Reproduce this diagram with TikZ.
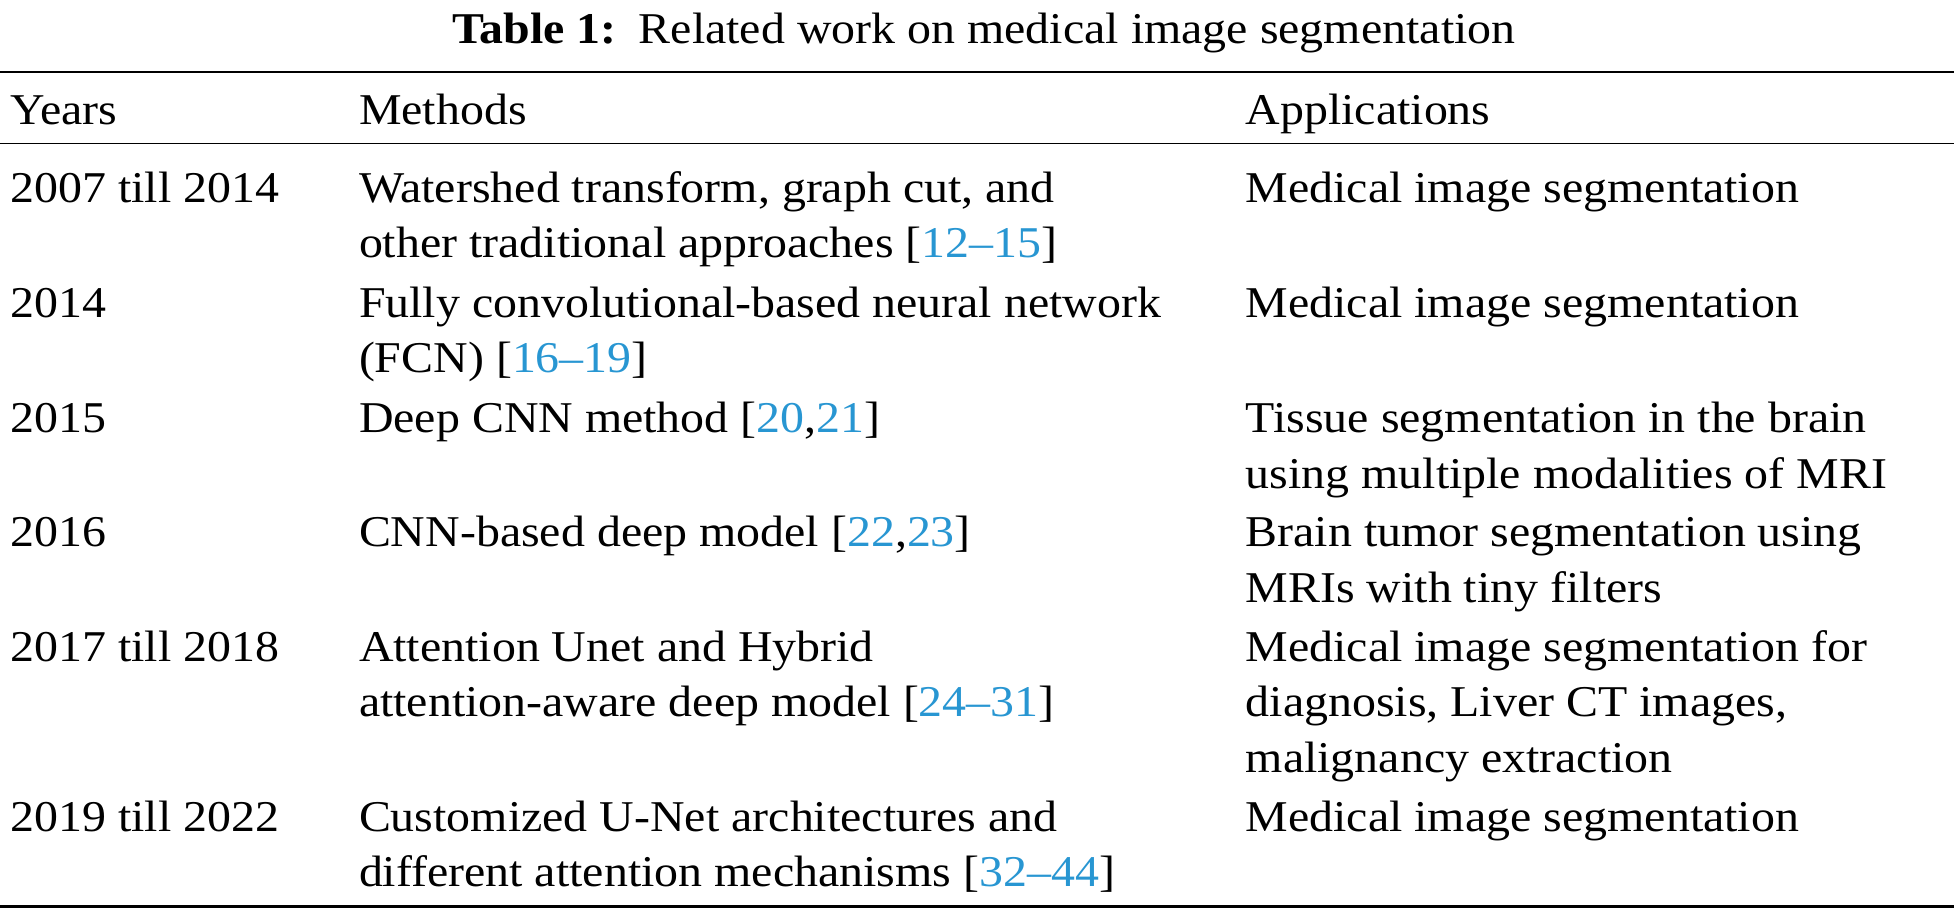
\documentclass[tikz,border=0pt]{standalone}
\usepackage{fontspec}
\setmainfont[FakeStretch=1.09]{Liberation Serif}
\definecolor{lnk}{RGB}{40,150,210}
\newcommand{\rf}[1]{\textcolor{lnk}{#1}}
\begin{document}
\begin{tikzpicture}[x=0.0249cm,y=-0.0249cm,
  cell/.style={anchor=base west,inner sep=0pt,font=\fontsize{25}{47}\selectfont},
  rule/.style={line width=1.4pt}]
\useasboundingbox (0,0) rectangle (1569,732);
\node[anchor=base,inner sep=0pt,font=\fontsize{25}{47}\selectfont] (title) at (790,35) {\textbf{Table 1:}\enspace Related work on medical image segmentation};
\coordinate (t1) at (0,58); \coordinate (t2) at (1569,58);
\draw[rule] (t1) -- (t2);
\node[cell] (h1) at (8,100) {Years};
\node[cell] (h2) at (288,100) {Methods};
\node[cell] (h3) at (1000,100) {Applications};
\coordinate (m1) at (0,115); \coordinate (m2) at (1569,115);
\draw[line width=0.7pt] (m1) -- (m2);
\foreach \y/\a/\b/\c/\n in {
 163/2007 till 2014/{Watershed transform, graph cut, and}/{Medical image segmentation}/r1a,
 207//{other traditional approaches [\rf{12--15}]}//r1b,
 255/2014/{Fully convolutional-based neural network}/{Medical image segmentation}/r2a,
 299//{(FCN) [\rf{16--19}]}//r2b,
 347/2015/{Deep CNN method [\rf{20},\rf{21}]}/{Tissue segmentation in the brain}/r3a,
 392///{using multiple modalities of MRI}/r3b,
 439/2016/{CNN-based deep model [\rf{22},\rf{23}]}/{Brain tumor segmentation using}/r4a,
 484///{MRIs with tiny filters}/r4b,
 531/2017 till 2018/{Attention Unet and Hybrid}/{Medical image segmentation for}/r5a,
 575//{attention-aware deep model [\rf{24--31}]}/{diagnosis, Liver CT images,}/r5b,
 620///{malignancy extraction}/r5c,
 668/2019 till 2022/{Customized U-Net architectures and}/{Medical image segmentation}/r6a,
 712//{different attention mechanisms [\rf{32--44}]}//r6b}{
 \node[cell] (\n-y) at (8,\y) {\a};
 \node[cell] (\n-m) at (288,\y) {\b};
 \node[cell] (\n-p) at (1000,\y) {\c};
}
\coordinate (b1) at (0,728); \coordinate (b2) at (1569,728);
\draw[rule] (b1) -- (b2);
\end{tikzpicture}
\end{document}
